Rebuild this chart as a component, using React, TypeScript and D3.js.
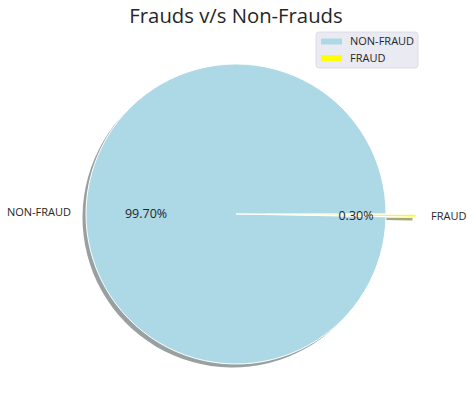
import React from "react";
import * as d3 from "d3";

const labels = ["NON-FRAUD", "FRAUD"];
const values = [99.7, 0.3];
const colors = ["lightblue", "yellow"];
const explode = [0, 0.2];

const width = 474;
const height = 409;
const cx = 236;
const cy = 214;
const radius = 150;

// matplotlib style: start at 3 o'clock, go counterclockwise
const pie = d3
    .pie<number>()
    .sort(null)
    .startAngle(Math.PI / 2)
    .endAngle(Math.PI / 2 - 2 * Math.PI);

const arc = d3.arc<d3.PieArcDatum<number>>().innerRadius(0).outerRadius(radius);

const shadowColor = (c: string) => {
    const rgb = d3.rgb(c);
    return d3.rgb(rgb.r * 0.3, rgb.g * 0.3, rgb.b * 0.3).toString();
};

const App = () => {
    const arcs = pie(values);
    const font = "'Open Sans', sans-serif";

    const offset = (a: d3.PieArcDatum<number>, d: number) => {
        const mid = (a.startAngle + a.endAngle) / 2;
        return [Math.sin(mid) * d, -Math.cos(mid) * d];
    };

    return (
        <div style={{position: "absolute", left: 0, top: 0}}>
            <svg width={width} height={height} style={{display: "block", background: "#fff"}}>
                <text x={cx} y={23} textAnchor="middle" fontFamily={font} fontSize={20.3} fill="#262626">
                    Frauds v/s Non-Frauds
                </text>

                {/* shadows */}
                <g transform={`translate(${cx - 3.5},${cy + 3.5})`}>
                    {arcs.map((a, i) => {
                        const [dx, dy] = offset(a, explode[i] * radius);
                        return (
                            <path
                                key={i}
                                d={arc(a) || ""}
                                transform={`translate(${dx},${dy})`}
                                fill={shadowColor(colors[i])}
                                opacity={0.5}
                            />
                        );
                    })}
                </g>

                <g transform={`translate(${cx},${cy})`}>
                    {arcs.map((a, i) => {
                        const [dx, dy] = offset(a, explode[i] * radius);
                        return (
                            <path
                                key={i}
                                d={arc(a) || ""}
                                transform={`translate(${dx},${dy})`}
                                fill={colors[i]}
                                stroke="white"
                                strokeWidth={1}
                                strokeLinejoin="round"
                            />
                        );
                    })}
                    {arcs.map((a, i) => {
                        const [dx, dy] = offset(a, explode[i] * radius);
                        const [lx, ly] = offset(a, 1.1 * radius);
                        const [px, py] = offset(a, 0.6 * radius);
                        const total = d3.sum(values);
                        return (
                            <g key={i} fontFamily={font} fontSize={11} fill="#262626">
                                <text
                                    x={dx + lx}
                                    y={dy + ly}
                                    dy="0.35em"
                                    textAnchor={lx < 0 ? "end" : "start"}
                                >
                                    {labels[i]}
                                </text>
                                <text x={dx + px} y={dy + py} dy="0.35em" textAnchor="middle" fontSize={12.5}>
                                    {((values[i] / total) * 100).toFixed(2)}%
                                </text>
                            </g>
                        );
                    })}
                </g>

                {/* legend */}
                <g transform="translate(316,32)" fontFamily={font} fontSize={11} fill="#262626">
                    <rect
                        x={0}
                        y={0}
                        width={102}
                        height={36}
                        rx={3}
                        fill="#eaeaf2"
                        stroke="#d8d8e0"
                        strokeWidth={0.8}
                    />
                    {labels.map((l, i) => (
                        <g key={l} transform={`translate(0,${9.5 + i * 16.5})`}>
                            <rect x={5} y={-3} width={21} height={6} fill={colors[i]}/>
                            <text x={34} y={0} dy="0.35em">{l}</text>
                        </g>
                    ))}
                </g>
            </svg>
        </div>
    );
};

export default App;
